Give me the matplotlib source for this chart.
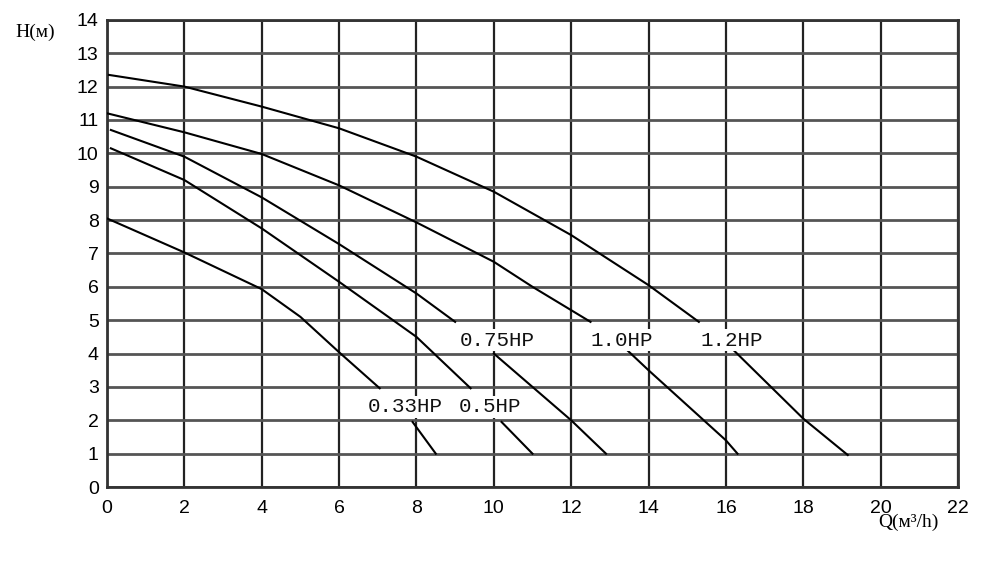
import numpy as np
import matplotlib.pyplot as plt

# pump curves, Q (m3/h) vs H (m); each curve is split by its label
q_033_a = [0, 2, 4, 5, 6, 7.05]
h_033_a = [8.05, 7.03, 5.93, 5.1, 4.04, 2.96]
q_033_b = [7.9, 8.5]
h_033_b = [1.95, 1.0]

q_05_a = [0.1, 2, 4, 6, 8, 9.4]
h_05_a = [10.15, 9.2, 7.75, 6.15, 4.5, 2.96]
q_05_b = [10.2, 11.0]
h_05_b = [1.95, 1.0]

q_075_a = [0.1, 2, 4, 6, 8, 9.0]
h_075_a = [10.7, 9.9, 8.68, 7.28, 5.8, 4.95]
q_075_b = [10.0, 12.0, 12.9]
h_075_b = [4.0, 2.0, 1.0]

q_10_a = [0, 2, 4, 6, 8, 10, 11, 12.5]
h_10_a = [11.2, 10.63, 9.98, 9.04, 7.93, 6.75, 6.0, 4.95]
q_10_b = [13.45, 14, 16, 16.3]
h_10_b = [4.1, 3.5, 1.4, 1.0]

q_12_a = [0.05, 2, 4, 6, 8, 10, 12, 14, 15.3]
h_12_a = [12.35, 12.0, 11.4, 10.75, 9.9, 8.85, 7.55, 6.05, 4.95]
q_12_b = [16.2, 18, 19.15]
h_12_b = [4.1, 2.05, 0.96]

labels = ['0.33HP', '0.5HP', '0.75HP', '1.0HP', '1.2HP']
label_q = [7.7, 9.9, 10.1, 13.3, 16.15]
label_h = [2.4, 2.4, 4.4, 4.4, 4.4]

x_ticks = np.arange(0, 23, 2)
y_ticks = np.arange(0, 15, 1)

fig = plt.figure(figsize=(10, 5.67), dpi=100)
ax = fig.add_axes([0.107, 0.141, 0.851, 0.824])

curves = [(q_033_a, h_033_a), (q_033_b, h_033_b),
          (q_05_a, h_05_a), (q_05_b, h_05_b),
          (q_075_a, h_075_a), (q_075_b, h_075_b),
          (q_10_a, h_10_a), (q_10_b, h_10_b),
          (q_12_a, h_12_a), (q_12_b, h_12_b)]
for q, h in curves:
    ax.plot(q, h, color='black', lw=1.5, zorder=3)

for t, q, h in zip(labels, label_q, label_h):
    ax.text(q, h, t, ha='center', va='center', fontsize=15,
            family='Liberation Mono', color='#111111', zorder=4,
            bbox=dict(facecolor='white', edgecolor='none', pad=1))

ax.set_xlim(0, 22)
ax.set_ylim(0, 14)
ax.set_xticks(x_ticks)
ax.set_yticks(y_ticks)
for x in x_ticks:
    ax.axvline(x, color='#222222', lw=1.6, zorder=1)
for y in y_ticks:
    ax.axhline(y, color='#555555', lw=2.0, zorder=1)
for s in ax.spines.values():
    s.set_color('#333333')
    s.set_linewidth(2)
ax.tick_params(length=0, labelsize=14, pad=9)
ax.tick_params(axis='y', pad=6)
for lab in ax.get_xticklabels() + ax.get_yticklabels():
    lab.set_family('Liberation Sans')

fig.text(0.015, 0.935, 'H(м)', fontsize=14, family='Liberation Serif')
fig.text(0.878, 0.07, 'Q(м³/h)', fontsize=14, family='Liberation Serif')

fig.savefig('out.png', dpi=100)
